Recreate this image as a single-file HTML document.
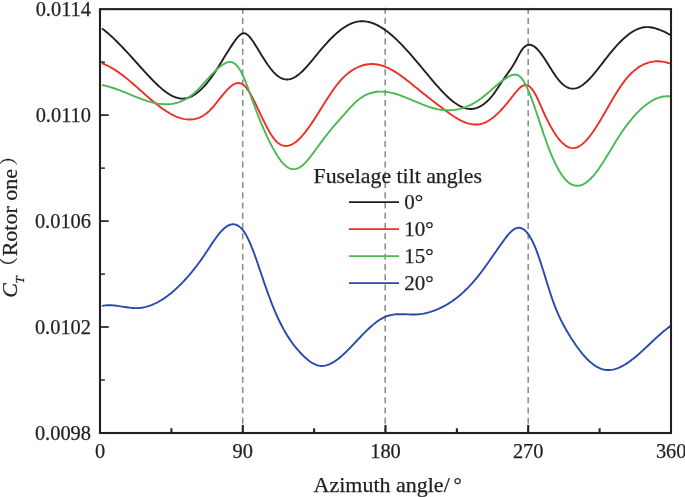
<!DOCTYPE html>
<html lang="en">
<head>
<meta charset="utf-8">
<title>Rotor one thrust coefficient</title>
<style>
html,body{margin:0;padding:0;background:#fff;}
body{width:685px;height:497px;overflow:hidden;}
svg{display:block;}
text{font-family:"Liberation Serif","Noto Serif CJK SC",serif;fill:#231f20;stroke:#231f20;stroke-width:0.25px;}
</style>
</head>
<body>
<svg width="685" height="497" viewBox="0 0 685 497">
<rect x="0" y="0" width="685" height="497" fill="#ffffff"/>
<g stroke="#8c8c8c" stroke-width="1.55" stroke-dasharray="6 4.25" fill="none">
<line x1="242.7" y1="7.85" x2="242.7" y2="432.0"/>
<line x1="385.2" y1="7.85" x2="385.2" y2="432.0"/>
<line x1="528.2" y1="7.85" x2="528.2" y2="432.0"/>
</g>
<g>
<path d="M102.6,28.88 L104.1,30.04 L105.6,31.26 L107.1,32.51 L108.6,33.80 L110.1,35.13 L111.6,36.50 L113.1,37.90 L114.6,39.33 L116.1,40.79 L117.6,42.28 L119.1,43.80 L120.6,45.34 L122.1,46.90 L123.6,48.48 L125.1,50.08 L126.6,51.69 L128.1,53.32 L129.6,54.96 L131.1,56.61 L132.6,58.26 L134.1,59.92 L135.6,61.59 L137.1,63.25 L138.6,64.92 L140.1,66.58 L141.6,68.24 L143.1,69.89 L144.6,71.54 L146.1,73.17 L147.6,74.79 L149.1,76.40 L150.6,77.98 L152.1,79.55 L153.6,81.08 L155.1,82.58 L156.6,84.05 L158.1,85.47 L159.6,86.84 L161.1,88.16 L162.6,89.43 L164.1,90.63 L165.6,91.77 L167.1,92.84 L168.6,93.83 L170.1,94.74 L171.6,95.57 L173.1,96.30 L174.6,96.95 L176.1,97.49 L177.6,97.93 L179.1,98.26 L180.6,98.48 L182.1,98.58 L183.6,98.55 L185.1,98.40 L186.6,98.13 L188.1,97.73 L189.6,97.20 L191.1,96.56 L192.6,95.80 L194.1,94.93 L195.6,93.94 L197.1,92.84 L198.6,91.64 L200.1,90.33 L201.6,88.91 L203.1,87.40 L204.6,85.78 L206.1,84.07 L207.6,82.27 L209.1,80.37 L210.6,78.39 L212.1,76.32 L213.6,74.16 L215.1,71.92 L216.6,69.62 L218.1,67.27 L219.6,64.87 L221.1,62.44 L222.6,60.00 L224.1,57.54 L225.6,55.10 L227.1,52.67 L228.6,50.27 L230.1,47.91 L231.6,45.61 L233.1,43.37 L234.6,41.20 L236.1,39.15 L237.6,37.28 L239.1,35.67 L240.6,34.40 L242.1,33.56 L243.6,33.22 L245.1,33.43 L246.6,34.15 L248.1,35.31 L249.6,36.84 L251.1,38.68 L252.6,40.77 L254.1,43.04 L255.6,45.41 L257.1,47.84 L258.6,50.28 L260.1,52.73 L261.6,55.16 L263.1,57.57 L264.6,59.92 L266.1,62.21 L267.6,64.43 L269.1,66.54 L270.6,68.54 L272.1,70.40 L273.6,72.12 L275.1,73.68 L276.6,75.06 L278.1,76.25 L279.6,77.26 L281.1,78.08 L282.6,78.72 L284.1,79.17 L285.6,79.44 L287.1,79.52 L288.6,79.41 L290.1,79.12 L291.6,78.66 L293.1,78.03 L294.6,77.26 L296.1,76.35 L297.6,75.30 L299.1,74.13 L300.6,72.85 L302.1,71.47 L303.6,70.00 L305.1,68.45 L306.6,66.83 L308.1,65.15 L309.6,63.41 L311.1,61.64 L312.6,59.83 L314.1,58.00 L315.6,56.17 L317.1,54.33 L318.6,52.50 L320.1,50.69 L321.6,48.91 L323.1,47.15 L324.6,45.44 L326.1,43.76 L327.6,42.12 L329.1,40.52 L330.6,38.96 L332.1,37.46 L333.6,36.00 L335.1,34.59 L336.6,33.24 L338.1,31.95 L339.6,30.72 L341.1,29.55 L342.6,28.45 L344.1,27.41 L345.6,26.45 L347.1,25.56 L348.6,24.75 L350.1,24.01 L351.6,23.36 L353.1,22.79 L354.6,22.31 L356.1,21.92 L357.6,21.61 L359.1,21.40 L360.6,21.27 L362.1,21.23 L363.6,21.27 L365.1,21.39 L366.6,21.59 L368.1,21.87 L369.6,22.23 L371.1,22.66 L372.6,23.17 L374.1,23.74 L375.6,24.39 L377.1,25.10 L378.6,25.88 L380.1,26.72 L381.6,27.63 L383.1,28.59 L384.6,29.62 L386.1,30.70 L387.6,31.83 L389.1,33.02 L390.6,34.26 L392.1,35.54 L393.6,36.87 L395.1,38.24 L396.6,39.66 L398.1,41.11 L399.6,42.60 L401.1,44.13 L402.6,45.69 L404.1,47.28 L405.6,48.90 L407.1,50.54 L408.6,52.21 L410.1,53.90 L411.6,55.62 L413.1,57.35 L414.6,59.10 L416.1,60.86 L417.6,62.63 L419.1,64.41 L420.6,66.20 L422.1,68.00 L423.6,69.80 L425.1,71.60 L426.6,73.40 L428.1,75.20 L429.6,77.00 L431.1,78.78 L432.6,80.56 L434.1,82.32 L435.6,84.06 L437.1,85.78 L438.6,87.47 L440.1,89.13 L441.6,90.75 L443.1,92.33 L444.6,93.87 L446.1,95.35 L447.6,96.78 L449.1,98.16 L450.6,99.47 L452.1,100.72 L453.6,101.90 L455.1,103.00 L456.6,104.02 L458.1,104.96 L459.6,105.81 L461.1,106.56 L462.6,107.22 L464.1,107.79 L465.6,108.24 L467.1,108.59 L468.6,108.82 L470.1,108.93 L471.6,108.93 L473.1,108.79 L474.6,108.53 L476.1,108.15 L477.6,107.63 L479.1,106.99 L480.6,106.21 L482.1,105.31 L483.6,104.27 L485.1,103.11 L486.6,101.81 L488.1,100.38 L489.6,98.82 L491.1,97.12 L492.6,95.29 L494.1,93.33 L495.6,91.24 L497.1,89.06 L498.6,86.81 L500.1,84.53 L501.6,82.25 L503.1,79.99 L504.6,77.78 L506.1,75.64 L507.6,73.53 L509.1,71.41 L510.6,69.24 L512.1,66.97 L513.6,64.57 L515.1,61.99 L516.6,59.22 L518.1,56.38 L519.6,53.62 L521.1,51.08 L522.6,48.91 L524.1,47.21 L525.6,45.98 L527.1,45.18 L528.6,44.80 L530.1,44.80 L531.6,45.15 L533.1,45.83 L534.6,46.80 L536.1,48.04 L537.6,49.53 L539.1,51.22 L540.6,53.10 L542.1,55.13 L543.6,57.29 L545.1,59.55 L546.6,61.88 L548.1,64.26 L549.6,66.65 L551.1,69.04 L552.6,71.40 L554.1,73.69 L555.6,75.89 L557.1,77.97 L558.6,79.91 L560.1,81.68 L561.6,83.25 L563.1,84.62 L564.6,85.78 L566.1,86.74 L567.6,87.51 L569.1,88.07 L570.6,88.45 L572.1,88.63 L573.6,88.63 L575.1,88.44 L576.6,88.07 L578.1,87.53 L579.6,86.83 L581.1,85.97 L582.6,84.98 L584.1,83.85 L585.6,82.60 L587.1,81.24 L588.6,79.77 L590.1,78.22 L591.6,76.57 L593.1,74.86 L594.6,73.08 L596.1,71.25 L597.6,69.37 L599.1,67.46 L600.6,65.53 L602.1,63.58 L603.6,61.62 L605.1,59.67 L606.6,57.73 L608.1,55.82 L609.6,53.94 L611.1,52.10 L612.6,50.30 L614.1,48.54 L615.6,46.83 L617.1,45.17 L618.6,43.56 L620.1,42.01 L621.6,40.52 L623.1,39.09 L624.6,37.72 L626.1,36.42 L627.6,35.20 L629.1,34.05 L630.6,32.97 L632.1,31.98 L633.6,31.07 L635.1,30.25 L636.6,29.52 L638.1,28.88 L639.6,28.33 L641.1,27.89 L642.6,27.55 L644.1,27.31 L645.6,27.17 L647.1,27.12 L648.6,27.16 L650.1,27.28 L651.6,27.49 L653.1,27.77 L654.6,28.12 L656.1,28.54 L657.6,29.02 L659.1,29.55 L660.6,30.14 L662.1,30.78 L663.6,31.47 L665.1,32.19 L666.6,32.95 L668.1,33.74 L669.6,34.55 L670.8,35.22" fill="none" stroke="#231f20" stroke-width="1.9" stroke-linejoin="round" stroke-linecap="round"/>
<path d="M102.6,63.67 L104.1,64.21 L105.6,64.83 L107.1,65.49 L108.6,66.22 L110.1,67.00 L111.6,67.83 L113.1,68.71 L114.6,69.64 L116.1,70.61 L117.6,71.62 L119.1,72.67 L120.6,73.75 L122.1,74.87 L123.6,76.03 L125.1,77.21 L126.6,78.41 L128.1,79.64 L129.6,80.89 L131.1,82.16 L132.6,83.45 L134.1,84.75 L135.6,86.06 L137.1,87.38 L138.6,88.71 L140.1,90.04 L141.6,91.37 L143.1,92.70 L144.6,94.03 L146.1,95.35 L147.6,96.66 L149.1,97.96 L150.6,99.24 L152.1,100.51 L153.6,101.76 L155.1,102.99 L156.6,104.19 L158.1,105.37 L159.6,106.52 L161.1,107.64 L162.6,108.72 L164.1,109.77 L165.6,110.78 L167.1,111.74 L168.6,112.66 L170.1,113.54 L171.6,114.37 L173.1,115.14 L174.6,115.86 L176.1,116.52 L177.6,117.13 L179.1,117.67 L180.6,118.15 L182.1,118.56 L183.6,118.91 L185.1,119.18 L186.6,119.38 L188.1,119.50 L189.6,119.54 L191.1,119.50 L192.6,119.37 L194.1,119.15 L195.6,118.84 L197.1,118.43 L198.6,117.91 L200.1,117.29 L201.6,116.56 L203.1,115.72 L204.6,114.75 L206.1,113.67 L207.6,112.45 L209.1,111.11 L210.6,109.63 L212.1,108.02 L213.6,106.31 L215.1,104.51 L216.6,102.65 L218.1,100.76 L219.6,98.85 L221.1,96.95 L222.6,95.08 L224.1,93.26 L225.6,91.52 L227.1,89.88 L228.6,88.36 L230.1,86.98 L231.6,85.77 L233.1,84.75 L234.6,83.94 L236.1,83.37 L237.6,83.07 L239.1,83.05 L240.6,83.34 L242.1,83.97 L243.6,84.96 L245.1,86.34 L246.6,88.08 L248.1,90.16 L249.6,92.52 L251.1,95.12 L252.6,97.91 L254.1,100.87 L255.6,103.93 L257.1,107.07 L258.6,110.23 L260.1,113.40 L261.6,116.55 L263.1,119.66 L264.6,122.69 L266.1,125.64 L267.6,128.46 L269.1,131.15 L270.6,133.67 L272.1,135.99 L273.6,138.11 L275.1,139.98 L276.6,141.60 L278.1,142.94 L279.6,144.01 L281.1,144.84 L282.6,145.43 L284.1,145.79 L285.6,145.93 L287.1,145.86 L288.6,145.60 L290.1,145.16 L291.6,144.54 L293.1,143.75 L294.6,142.79 L296.1,141.69 L297.6,140.44 L299.1,139.06 L300.6,137.55 L302.1,135.92 L303.6,134.18 L305.1,132.34 L306.6,130.40 L308.1,128.38 L309.6,126.29 L311.1,124.12 L312.6,121.89 L314.1,119.61 L315.6,117.29 L317.1,114.94 L318.6,112.55 L320.1,110.15 L321.6,107.75 L323.1,105.34 L324.6,102.95 L326.1,100.58 L327.6,98.23 L329.1,95.92 L330.6,93.66 L332.1,91.46 L333.6,89.32 L335.1,87.26 L336.6,85.28 L338.1,83.39 L339.6,81.60 L341.1,79.91 L342.6,78.31 L344.1,76.81 L345.6,75.41 L347.1,74.09 L348.6,72.87 L350.1,71.73 L351.6,70.67 L353.1,69.70 L354.6,68.81 L356.1,68.00 L357.6,67.27 L359.1,66.61 L360.6,66.04 L362.1,65.53 L363.6,65.10 L365.1,64.75 L366.6,64.47 L368.1,64.26 L369.6,64.12 L371.1,64.05 L372.6,64.05 L374.1,64.13 L375.6,64.27 L377.1,64.47 L378.6,64.75 L380.1,65.09 L381.6,65.49 L383.1,65.96 L384.6,66.50 L386.1,67.10 L387.6,67.75 L389.1,68.47 L390.6,69.24 L392.1,70.06 L393.6,70.92 L395.1,71.84 L396.6,72.79 L398.1,73.79 L399.6,74.82 L401.1,75.88 L402.6,76.97 L404.1,78.09 L405.6,79.23 L407.1,80.39 L408.6,81.57 L410.1,82.77 L411.6,83.97 L413.1,85.19 L414.6,86.40 L416.1,87.62 L417.6,88.84 L419.1,90.06 L420.6,91.27 L422.1,92.47 L423.6,93.66 L425.1,94.85 L426.6,96.03 L428.1,97.21 L429.6,98.38 L431.1,99.54 L432.6,100.70 L434.1,101.86 L435.6,103.02 L437.1,104.17 L438.6,105.32 L440.1,106.46 L441.6,107.61 L443.1,108.75 L444.6,109.88 L446.1,110.99 L447.6,112.09 L449.1,113.17 L450.6,114.23 L452.1,115.26 L453.6,116.25 L455.1,117.21 L456.6,118.13 L458.1,119.00 L459.6,119.82 L461.1,120.59 L462.6,121.31 L464.1,121.96 L465.6,122.55 L467.1,123.08 L468.6,123.53 L470.1,123.90 L471.6,124.19 L473.1,124.40 L474.6,124.52 L476.1,124.55 L477.6,124.49 L479.1,124.32 L480.6,124.05 L482.1,123.67 L483.6,123.18 L485.1,122.57 L486.6,121.85 L488.1,121.02 L489.6,120.09 L491.1,119.06 L492.6,117.94 L494.1,116.72 L495.6,115.42 L497.1,114.04 L498.6,112.59 L500.1,111.07 L501.6,109.48 L503.1,107.83 L504.6,106.12 L506.1,104.36 L507.6,102.56 L509.1,100.71 L510.6,98.83 L512.1,96.92 L513.6,94.99 L515.1,93.09 L516.6,91.27 L518.1,89.59 L519.6,88.10 L521.1,86.85 L522.6,85.90 L524.1,85.29 L525.6,85.09 L527.1,85.32 L528.6,85.99 L530.1,87.08 L531.6,88.60 L533.1,90.55 L534.6,92.93 L536.1,95.70 L537.6,98.77 L539.1,102.05 L540.6,105.46 L542.1,108.88 L543.6,112.24 L545.1,115.48 L546.6,118.61 L548.1,121.62 L549.6,124.50 L551.1,127.24 L552.6,129.84 L554.1,132.29 L555.6,134.59 L557.1,136.73 L558.6,138.71 L560.1,140.52 L561.6,142.15 L563.1,143.59 L564.6,144.85 L566.1,145.92 L567.6,146.79 L569.1,147.45 L570.6,147.90 L572.1,148.13 L573.6,148.14 L575.1,147.93 L576.6,147.51 L578.1,146.88 L579.6,146.07 L581.1,145.07 L582.6,143.90 L584.1,142.56 L585.6,141.08 L587.1,139.45 L588.6,137.68 L590.1,135.80 L591.6,133.80 L593.1,131.69 L594.6,129.49 L596.1,127.20 L597.6,124.84 L599.1,122.41 L600.6,119.92 L602.1,117.39 L603.6,114.82 L605.1,112.23 L606.6,109.61 L608.1,107.00 L609.6,104.39 L611.1,101.79 L612.6,99.22 L614.1,96.69 L615.6,94.20 L617.1,91.77 L618.6,89.40 L620.1,87.12 L621.6,84.92 L623.1,82.83 L624.6,80.84 L626.1,78.96 L627.6,77.19 L629.1,75.53 L630.6,73.97 L632.1,72.51 L633.6,71.15 L635.1,69.89 L636.6,68.73 L638.1,67.65 L639.6,66.67 L641.1,65.78 L642.6,64.97 L644.1,64.24 L645.6,63.60 L647.1,63.05 L648.6,62.57 L650.1,62.17 L651.6,61.84 L653.1,61.59 L654.6,61.42 L656.1,61.32 L657.6,61.29 L659.1,61.32 L660.6,61.43 L662.1,61.60 L663.6,61.84 L665.1,62.14 L666.6,62.50 L668.1,62.92 L669.6,63.40 L670.8,63.83" fill="none" stroke="#ee2e24" stroke-width="1.9" stroke-linejoin="round" stroke-linecap="round"/>
<path d="M102.6,85.20 L104.1,85.51 L105.6,85.84 L107.1,86.21 L108.6,86.62 L110.1,87.05 L111.6,87.50 L113.1,87.98 L114.6,88.49 L116.1,89.01 L117.6,89.56 L119.1,90.12 L120.6,90.69 L122.1,91.28 L123.6,91.87 L125.1,92.48 L126.6,93.09 L128.1,93.70 L129.6,94.32 L131.1,94.94 L132.6,95.55 L134.1,96.16 L135.6,96.76 L137.1,97.36 L138.6,97.94 L140.1,98.51 L141.6,99.07 L143.1,99.61 L144.6,100.13 L146.1,100.63 L147.6,101.11 L149.1,101.56 L150.6,101.99 L152.1,102.38 L153.6,102.75 L155.1,103.08 L156.6,103.37 L158.1,103.63 L159.6,103.85 L161.1,104.02 L162.6,104.16 L164.1,104.24 L165.6,104.28 L167.1,104.27 L168.6,104.21 L170.1,104.09 L171.6,103.92 L173.1,103.69 L174.6,103.40 L176.1,103.04 L177.6,102.62 L179.1,102.14 L180.6,101.59 L182.1,100.96 L183.6,100.26 L185.1,99.49 L186.6,98.64 L188.1,97.72 L189.6,96.71 L191.1,95.61 L192.6,94.44 L194.1,93.17 L195.6,91.82 L197.1,90.38 L198.6,88.88 L200.1,87.32 L201.6,85.71 L203.1,84.06 L204.6,82.40 L206.1,80.72 L207.6,79.03 L209.1,77.37 L210.6,75.72 L212.1,74.11 L213.6,72.54 L215.1,71.03 L216.6,69.59 L218.1,68.23 L219.6,66.96 L221.1,65.80 L222.6,64.75 L224.1,63.83 L225.6,63.05 L227.1,62.45 L228.6,62.06 L230.1,61.93 L231.6,62.10 L233.1,62.61 L234.6,63.49 L236.1,64.77 L237.6,66.46 L239.1,68.55 L240.6,71.01 L242.1,73.85 L243.6,77.04 L245.1,80.57 L246.6,84.39 L248.1,88.41 L249.6,92.56 L251.1,96.74 L252.6,100.89 L254.1,105.00 L255.6,109.03 L257.1,112.98 L258.6,116.82 L260.1,120.56 L261.6,124.20 L263.1,127.74 L264.6,131.17 L266.1,134.49 L267.6,137.69 L269.1,140.79 L270.6,143.77 L272.1,146.63 L273.6,149.38 L275.1,152.00 L276.6,154.49 L278.1,156.84 L279.6,159.02 L281.1,161.02 L282.6,162.83 L284.1,164.44 L285.6,165.83 L287.1,166.98 L288.6,167.88 L290.1,168.55 L291.6,168.98 L293.1,169.18 L294.6,169.14 L296.1,168.89 L297.6,168.41 L299.1,167.72 L300.6,166.81 L302.1,165.70 L303.6,164.41 L305.1,162.95 L306.6,161.34 L308.1,159.61 L309.6,157.78 L311.1,155.86 L312.6,153.87 L314.1,151.85 L315.6,149.79 L317.1,147.74 L318.6,145.69 L320.1,143.65 L321.6,141.62 L323.1,139.62 L324.6,137.63 L326.1,135.67 L327.6,133.74 L329.1,131.85 L330.6,129.99 L332.1,128.18 L333.6,126.41 L335.1,124.68 L336.6,122.98 L338.1,121.31 L339.6,119.63 L341.1,117.95 L342.6,116.24 L344.1,114.52 L345.6,112.79 L347.1,111.07 L348.6,109.38 L350.1,107.71 L351.6,106.10 L353.1,104.55 L354.6,103.07 L356.1,101.67 L357.6,100.38 L359.1,99.19 L360.6,98.10 L362.1,97.10 L363.6,96.20 L365.1,95.38 L366.6,94.65 L368.1,94.01 L369.6,93.45 L371.1,92.97 L372.6,92.56 L374.1,92.23 L375.6,91.97 L377.1,91.78 L378.6,91.65 L380.1,91.59 L381.6,91.58 L383.1,91.64 L384.6,91.74 L386.1,91.90 L387.6,92.11 L389.1,92.36 L390.6,92.66 L392.1,93.00 L393.6,93.38 L395.1,93.79 L396.6,94.23 L398.1,94.71 L399.6,95.21 L401.1,95.74 L402.6,96.29 L404.1,96.87 L405.6,97.45 L407.1,98.06 L408.6,98.67 L410.1,99.30 L411.6,99.93 L413.1,100.56 L414.6,101.20 L416.1,101.83 L417.6,102.47 L419.1,103.09 L420.6,103.71 L422.1,104.31 L423.6,104.90 L425.1,105.47 L426.6,106.02 L428.1,106.55 L429.6,107.05 L431.1,107.53 L432.6,107.97 L434.1,108.38 L435.6,108.76 L437.1,109.10 L438.6,109.40 L440.1,109.65 L441.6,109.86 L443.1,110.03 L444.6,110.15 L446.1,110.23 L447.6,110.27 L449.1,110.25 L450.6,110.20 L452.1,110.10 L453.6,109.95 L455.1,109.75 L456.6,109.51 L458.1,109.21 L459.6,108.87 L461.1,108.48 L462.6,108.05 L464.1,107.56 L465.6,107.02 L467.1,106.43 L468.6,105.79 L470.1,105.10 L471.6,104.36 L473.1,103.56 L474.6,102.72 L476.1,101.82 L477.6,100.86 L479.1,99.85 L480.6,98.79 L482.1,97.68 L483.6,96.51 L485.1,95.29 L486.6,94.04 L488.1,92.76 L489.6,91.45 L491.1,90.14 L492.6,88.82 L494.1,87.51 L495.6,86.21 L497.1,84.93 L498.6,83.67 L500.1,82.46 L501.6,81.29 L503.1,80.17 L504.6,79.12 L506.1,78.13 L507.6,77.22 L509.1,76.40 L510.6,75.68 L512.1,75.10 L513.6,74.71 L515.1,74.57 L516.6,74.74 L518.1,75.27 L519.6,76.23 L521.1,77.66 L522.6,79.58 L524.1,81.94 L525.6,84.70 L527.1,87.82 L528.6,91.25 L530.1,94.94 L531.6,98.84 L533.1,102.92 L534.6,107.14 L536.1,111.48 L537.6,115.91 L539.1,120.41 L540.6,124.92 L542.1,129.42 L543.6,133.86 L545.1,138.22 L546.6,142.45 L548.1,146.51 L549.6,150.40 L551.1,154.11 L552.6,157.63 L554.1,160.96 L555.6,164.09 L557.1,167.03 L558.6,169.76 L560.1,172.29 L561.6,174.61 L563.1,176.70 L564.6,178.58 L566.1,180.24 L567.6,181.66 L569.1,182.87 L570.6,183.85 L572.1,184.63 L573.6,185.20 L575.1,185.56 L576.6,185.73 L578.1,185.71 L579.6,185.50 L581.1,185.10 L582.6,184.54 L584.1,183.80 L585.6,182.89 L587.1,181.83 L588.6,180.61 L590.1,179.24 L591.6,177.72 L593.1,176.07 L594.6,174.28 L596.1,172.38 L597.6,170.36 L599.1,168.25 L600.6,166.05 L602.1,163.77 L603.6,161.43 L605.1,159.04 L606.6,156.60 L608.1,154.14 L609.6,151.65 L611.1,149.16 L612.6,146.67 L614.1,144.20 L615.6,141.75 L617.1,139.34 L618.6,136.98 L620.1,134.68 L621.6,132.44 L623.1,130.26 L624.6,128.14 L626.1,126.08 L627.6,124.09 L629.1,122.16 L630.6,120.29 L632.1,118.49 L633.6,116.74 L635.1,115.06 L636.6,113.45 L638.1,111.89 L639.6,110.41 L641.1,108.99 L642.6,107.63 L644.1,106.35 L645.6,105.13 L647.1,103.99 L648.6,102.92 L650.1,101.92 L651.6,101.00 L653.1,100.16 L654.6,99.40 L656.1,98.71 L657.6,98.11 L659.1,97.58 L660.6,97.14 L662.1,96.79 L663.6,96.52 L665.1,96.34 L666.6,96.25 L668.1,96.25 L669.6,96.34 L670.8,96.48" fill="none" stroke="#4ab853" stroke-width="1.9" stroke-linejoin="round" stroke-linecap="round"/>
<path d="M102.6,305.87 L104.1,305.61 L105.6,305.42 L107.1,305.30 L108.6,305.25 L110.1,305.25 L111.6,305.30 L113.1,305.40 L114.6,305.53 L116.1,305.70 L117.6,305.90 L119.1,306.11 L120.6,306.34 L122.1,306.58 L123.6,306.82 L125.1,307.06 L126.6,307.28 L128.1,307.49 L129.6,307.68 L131.1,307.84 L132.6,307.97 L134.1,308.05 L135.6,308.09 L137.1,308.08 L138.6,308.01 L140.1,307.88 L141.6,307.70 L143.1,307.46 L144.6,307.16 L146.1,306.80 L147.6,306.39 L149.1,305.92 L150.6,305.40 L152.1,304.82 L153.6,304.20 L155.1,303.51 L156.6,302.78 L158.1,302.00 L159.6,301.16 L161.1,300.28 L162.6,299.34 L164.1,298.36 L165.6,297.32 L167.1,296.24 L168.6,295.11 L170.1,293.94 L171.6,292.72 L173.1,291.45 L174.6,290.14 L176.1,288.79 L177.6,287.39 L179.1,285.94 L180.6,284.46 L182.1,282.93 L183.6,281.36 L185.1,279.74 L186.6,278.09 L188.1,276.39 L189.6,274.64 L191.1,272.85 L192.6,271.02 L194.1,269.15 L195.6,267.22 L197.1,265.26 L198.6,263.25 L200.1,261.19 L201.6,259.09 L203.1,256.94 L204.6,254.75 L206.1,252.51 L207.6,250.23 L209.1,247.95 L210.6,245.66 L212.1,243.40 L213.6,241.18 L215.1,239.02 L216.6,236.95 L218.1,234.96 L219.6,233.10 L221.1,231.37 L222.6,229.80 L224.1,228.40 L225.6,227.18 L227.1,226.16 L228.6,225.34 L230.1,224.75 L231.6,224.38 L233.1,224.25 L234.6,224.37 L236.1,224.76 L237.6,225.43 L239.1,226.38 L240.6,227.64 L242.1,229.21 L243.6,231.10 L245.1,233.32 L246.6,235.89 L248.1,238.81 L249.6,242.05 L251.1,245.56 L252.6,249.32 L254.1,253.28 L255.6,257.42 L257.1,261.70 L258.6,266.07 L260.1,270.50 L261.6,274.97 L263.1,279.42 L264.6,283.83 L266.1,288.16 L267.6,292.38 L269.1,296.47 L270.6,300.45 L272.1,304.30 L273.6,308.02 L275.1,311.60 L276.6,315.05 L278.1,318.36 L279.6,321.52 L281.1,324.53 L282.6,327.41 L284.1,330.15 L285.6,332.76 L287.1,335.25 L288.6,337.62 L290.1,339.88 L291.6,342.04 L293.1,344.09 L294.6,346.04 L296.1,347.90 L297.6,349.68 L299.1,351.38 L300.6,353.00 L302.1,354.55 L303.6,356.04 L305.1,357.45 L306.6,358.79 L308.1,360.04 L309.6,361.19 L311.1,362.24 L312.6,363.18 L314.1,363.99 L315.6,364.67 L317.1,365.21 L318.6,365.60 L320.1,365.84 L321.6,365.93 L323.1,365.88 L324.6,365.69 L326.1,365.38 L327.6,364.94 L329.1,364.38 L330.6,363.71 L332.1,362.94 L333.6,362.07 L335.1,361.11 L336.6,360.06 L338.1,358.93 L339.6,357.73 L341.1,356.46 L342.6,355.13 L344.1,353.75 L345.6,352.32 L347.1,350.85 L348.6,349.34 L350.1,347.81 L351.6,346.25 L353.1,344.67 L354.6,343.08 L356.1,341.49 L357.6,339.90 L359.1,338.31 L360.6,336.74 L362.1,335.18 L363.6,333.64 L365.1,332.13 L366.6,330.65 L368.1,329.20 L369.6,327.80 L371.1,326.44 L372.6,325.13 L374.1,323.87 L375.6,322.68 L377.1,321.56 L378.6,320.50 L380.1,319.52 L381.6,318.62 L383.1,317.81 L384.6,317.09 L386.1,316.46 L387.6,315.93 L389.1,315.48 L390.6,315.11 L392.1,314.81 L393.6,314.58 L395.1,314.41 L396.6,314.29 L398.1,314.22 L399.6,314.18 L401.1,314.18 L402.6,314.20 L404.1,314.25 L405.6,314.30 L407.1,314.36 L408.6,314.42 L410.1,314.47 L411.6,314.51 L413.1,314.52 L414.6,314.51 L416.1,314.46 L417.6,314.38 L419.1,314.24 L420.6,314.07 L422.1,313.85 L423.6,313.59 L425.1,313.29 L426.6,312.95 L428.1,312.56 L429.6,312.14 L431.1,311.68 L432.6,311.18 L434.1,310.64 L435.6,310.07 L437.1,309.45 L438.6,308.81 L440.1,308.12 L441.6,307.39 L443.1,306.63 L444.6,305.83 L446.1,304.98 L447.6,304.10 L449.1,303.17 L450.6,302.20 L452.1,301.19 L453.6,300.13 L455.1,299.03 L456.6,297.89 L458.1,296.70 L459.6,295.46 L461.1,294.18 L462.6,292.85 L464.1,291.48 L465.6,290.05 L467.1,288.57 L468.6,287.05 L470.1,285.47 L471.6,283.85 L473.1,282.17 L474.6,280.44 L476.1,278.65 L477.6,276.82 L479.1,274.92 L480.6,272.98 L482.1,270.99 L483.6,268.97 L485.1,266.90 L486.6,264.81 L488.1,262.69 L489.6,260.55 L491.1,258.40 L492.6,256.24 L494.1,254.08 L495.6,251.92 L497.1,249.77 L498.6,247.63 L500.1,245.50 L501.6,243.41 L503.1,241.34 L504.6,239.30 L506.1,237.33 L507.6,235.45 L509.1,233.70 L510.6,232.11 L512.1,230.72 L513.6,229.56 L515.1,228.67 L516.6,228.07 L518.1,227.78 L519.6,227.80 L521.1,228.13 L522.6,228.78 L524.1,229.75 L525.6,231.05 L527.1,232.68 L528.6,234.63 L530.1,236.93 L531.6,239.56 L533.1,242.54 L534.6,245.87 L536.1,249.55 L537.6,253.56 L539.1,257.83 L540.6,262.33 L542.1,267.00 L543.6,271.79 L545.1,276.64 L546.6,281.50 L548.1,286.32 L549.6,291.05 L551.1,295.64 L552.6,300.03 L554.1,304.17 L555.6,308.05 L557.1,311.69 L558.6,315.12 L560.1,318.34 L561.6,321.39 L563.1,324.28 L564.6,327.04 L566.1,329.69 L567.6,332.25 L569.1,334.74 L570.6,337.17 L572.1,339.53 L573.6,341.83 L575.1,344.05 L576.6,346.20 L578.1,348.27 L579.6,350.27 L581.1,352.18 L582.6,354.02 L584.1,355.76 L585.6,357.42 L587.1,358.99 L588.6,360.46 L590.1,361.84 L591.6,363.12 L593.1,364.30 L594.6,365.37 L596.1,366.34 L597.6,367.20 L599.1,367.95 L600.6,368.59 L602.1,369.10 L603.6,369.51 L605.1,369.79 L606.6,369.97 L608.1,370.04 L609.6,370.00 L611.1,369.87 L612.6,369.64 L614.1,369.32 L615.6,368.91 L617.1,368.41 L618.6,367.83 L620.1,367.18 L621.6,366.45 L623.1,365.66 L624.6,364.79 L626.1,363.87 L627.6,362.88 L629.1,361.84 L630.6,360.75 L632.1,359.61 L633.6,358.43 L635.1,357.21 L636.6,355.95 L638.1,354.66 L639.6,353.34 L641.1,352.00 L642.6,350.63 L644.1,349.25 L645.6,347.85 L647.1,346.44 L648.6,345.03 L650.1,343.61 L651.6,342.19 L653.1,340.78 L654.6,339.38 L656.1,337.99 L657.6,336.61 L659.1,335.26 L660.6,333.93 L662.1,332.62 L663.6,331.35 L665.1,330.11 L666.6,328.91 L668.1,327.75 L669.6,326.63 L670.8,325.78" fill="none" stroke="#2949ad" stroke-width="1.9" stroke-linejoin="round" stroke-linecap="round"/>
</g>
<g stroke="#231f20" stroke-width="1.6" fill="none">
<line x1="100.0" y1="115.1" x2="108.7" y2="115.1" stroke-width="1.7"/>
<line x1="100.0" y1="221.1" x2="108.7" y2="221.1" stroke-width="1.7"/>
<line x1="100.0" y1="327.0" x2="108.7" y2="327.0" stroke-width="1.7"/>
<line x1="100.0" y1="62.1" x2="104.9" y2="62.1" stroke-width="1.45"/>
<line x1="100.0" y1="168.1" x2="104.9" y2="168.1" stroke-width="1.45"/>
<line x1="100.0" y1="274.1" x2="104.9" y2="274.1" stroke-width="1.45"/>
<line x1="100.0" y1="380.0" x2="104.9" y2="380.0" stroke-width="1.45"/>
<line x1="242.8" y1="433.0" x2="242.8" y2="424.9" stroke-width="2.1"/>
<line x1="385.5" y1="433.0" x2="385.5" y2="424.9" stroke-width="2.1"/>
<line x1="528.2" y1="433.0" x2="528.2" y2="424.9" stroke-width="2.1"/>
<line x1="171.4" y1="433.0" x2="171.4" y2="428.3" stroke-width="2.1"/>
<line x1="314.1" y1="433.0" x2="314.1" y2="428.3" stroke-width="2.1"/>
<line x1="456.9" y1="433.0" x2="456.9" y2="428.3" stroke-width="2.1"/>
<line x1="599.6" y1="433.0" x2="599.6" y2="428.3" stroke-width="2.1"/>
</g>
<rect x="100.0" y="9.15" width="571.0" height="423.85" fill="none" stroke="#231f20" stroke-width="2.1"/>
<g font-size="20.4">
<text x="91" y="15.7" text-anchor="end">0.0114</text>
<text x="91" y="121.6" text-anchor="end">0.0110</text>
<text x="91" y="227.6" text-anchor="end">0.0106</text>
<text x="91" y="333.5" text-anchor="end">0.0102</text>
<text x="91" y="439.5" text-anchor="end">0.0098</text>
<text x="100.0" y="457.7" text-anchor="middle">0</text>
<text x="242.8" y="457.7" text-anchor="middle">90</text>
<text x="385.5" y="457.7" text-anchor="middle">180</text>
<text x="528.2" y="457.7" text-anchor="middle">270</text>
<text x="686.5" y="457.7" text-anchor="end">360</text>
</g>
<text x="313.5" y="492.2" font-size="22">Azimuth angle/<tspan dx="3.7" font-size="20.5">°</tspan></text>
<g transform="translate(17.2,298) rotate(-90)" font-size="22">
<text x="0.3" y="0" font-style="italic">C</text>
<text x="14.6" y="7" font-style="italic" font-size="13">T</text>
<text x="21.8" y="-1.3" font-size="19">（</text>
<text x="41.7" y="0">Rotor one</text>
<text x="132.4" y="-1.3" font-size="19">）</text>
</g>
<text x="313.6" y="182.8" font-size="21.8">Fuselage tilt angles</text>
<line x1="349" y1="202.1" x2="399" y2="202.1" stroke="#231f20" stroke-width="1.9"/>
<text x="404.3" y="209.4" font-size="21">0°</text>
<line x1="349" y1="229.1" x2="399" y2="229.1" stroke="#ee2e24" stroke-width="1.9"/>
<text x="404.3" y="236.4" font-size="21">10°</text>
<line x1="349" y1="256.1" x2="399" y2="256.1" stroke="#4ab853" stroke-width="1.9"/>
<text x="404.3" y="263.4" font-size="21">15°</text>
<line x1="349" y1="283.1" x2="399" y2="283.1" stroke="#2949ad" stroke-width="1.9"/>
<text x="404.3" y="290.4" font-size="21">20°</text>
</svg>
</body>
</html>
